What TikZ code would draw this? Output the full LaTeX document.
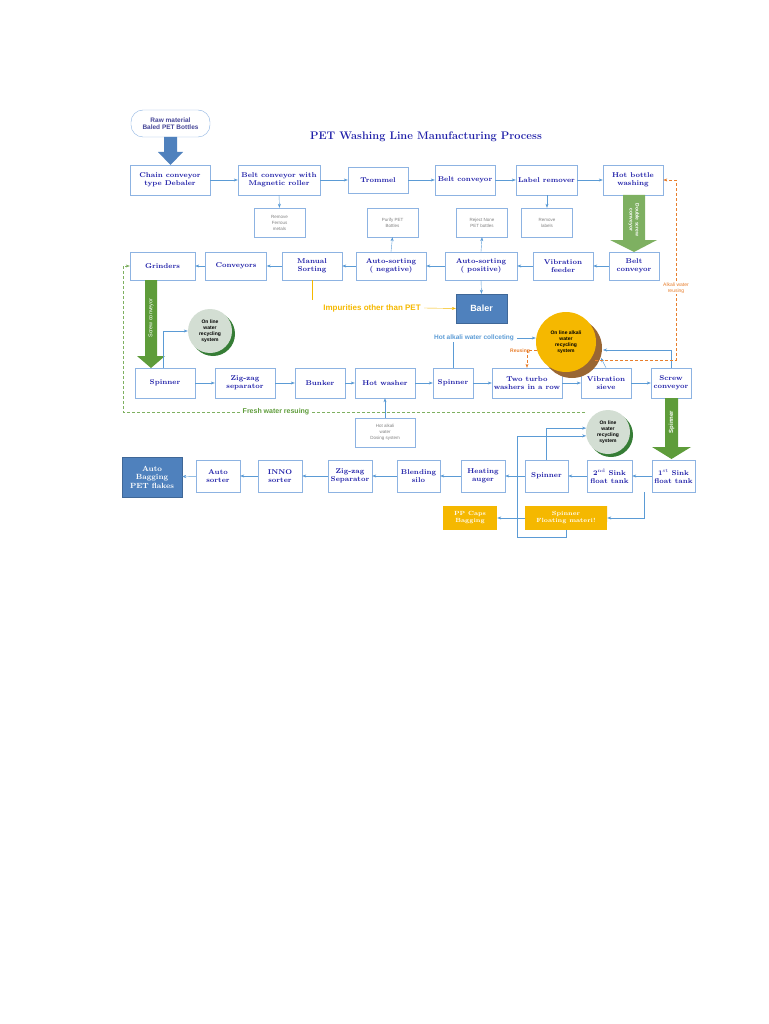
\documentclass[tikz,border=0pt]{standalone}
\usepackage{fontspec}
\newfontfamily\sans{Liberation Sans}
\usetikzlibrary{arrows.meta,shapes.geometric}
\begin{document}
\definecolor{bl}{HTML}{8DB3E2}
\definecolor{ar}{HTML}{5B9BD5}
\definecolor{tb}{HTML}{1F1FA8}
\definecolor{gr}{HTML}{5E9C3A}
\definecolor{yl}{HTML}{F5B800}
\definecolor{og}{HTML}{E87E2C}
\definecolor{fb}{HTML}{4F81BD}
\begin{tikzpicture}[x=1pt,y=-1pt,
 box/.style={draw=bl,fill=white,font=\bfseries\fontsize{7}{8}\selectfont,text=tb,align=center,inner sep=1pt,minimum height=#1},
 box/.default=30,
 side/.style={draw=bl,fill=white,font=\sans\fontsize{4.5}{6}\selectfont,text=gray,align=center,inner sep=1pt,minimum width=51,minimum height=29,
   append after command={[draw=bl] ([xshift=4]\tikzlastnode.north west)--([xshift=4]\tikzlastnode.south west) ([xshift=-4]\tikzlastnode.north east)--([xshift=-4]\tikzlastnode.south east)}},
 fl/.style={draw=ar,-{Stealth[length=4pt]}},
 fill box/.style={fill=fb,draw=fb!80!black,text=white,font=\bfseries\fontsize{7.5}{8.5}\selectfont,align=center},
 ybox/.style={fill=yl,text=white,font=\bfseries\fontsize{6}{7}\selectfont,align=center,minimum height=24,inner sep=1pt},
 circ/.style={circle,font=\sans\bfseries\fontsize{5}{6}\selectfont,align=center,inner sep=0pt}]
\useasboundingbox (0,0) rectangle (768,1024);
% title
\node[font=\bfseries\fontsize{11}{12}\selectfont,text=tb] (title) at (426,137) {PET Washing Line Manufacturing Process};
\node[draw=bl,rounded corners=12,fill=white,font=\sans\bfseries\fontsize{6.5}{7.5}\selectfont,text=gray!40!tb,align=center,minimum width=79,minimum height=27] (raw) at (170.5,123.5) {Raw material\\Baled PET Bottles};
% row1
\node[box,minimum width=80] (chain) at (170,180) {Chain conveyor\\type Debaler};
\node[box,minimum width=82] (belt1) at (279,180) {Belt conveyor with\\Magnetic roller};
\node[box=26,minimum width=60] (trom) at (378,180) {Trommel};
\node[box,minimum width=60] (belt2) at (465,180) {Belt conveyor};
\node[box,minimum width=61] (label) at (546.5,180) {Label remover};
\node[box,minimum width=60] (hot) at (633,180) {Hot bottle\\washing};
% side boxes
\node[side] (fer) at (279.5,222.5) {Remove\\Ferrous\\metals};
\node[side] (pur) at (392.5,222.5) {Purify PET\\Bottles};
\node[side] (rej) at (482,222.5) {Reject None\\PET bottles};
\node[side] (rlab) at (547,222.5) {Remove\\labels};
% row2
\node[box=28,minimum width=65] (grind) at (162.5,266) {Grinders};
\node[box=28,minimum width=61] (conv) at (236,266) {Conveyors};
\node[box=28,minimum width=60] (man) at (312,266) {Manual\\Sorting};
\node[box=28,minimum width=70] (neg) at (391,266) {Auto-sorting\\( negative)};
\node[box=28,minimum width=72] (pos) at (481,266) {Auto-sorting\\( positive)};
\node[box=28,minimum width=60] (vfeed) at (563,266) {Vibration\\feeder};
\node[box=28,minimum width=50] (belt3) at (634,266) {Belt\\conveyor};
\node[fill box,minimum width=51,minimum height=29,font=\sans\bfseries\fontsize{9}{10}\selectfont] (baler) at (481.5,308.5) {Baler};
% row3
\node[box,minimum width=60] (sp1) at (165,383) {Spinner};
\node[box,minimum width=60] (zz1) at (245,383) {Zig-zag\\separator};
\node[box,minimum width=50] (bunk) at (320,383) {Bunker};
\node[box,minimum width=60] (hw) at (385,383) {Hot washer};
\node[box,minimum width=40] (sp2) at (453,383) {Spinner};
\node[box,minimum width=70] (turbo) at (527,383) {Two turbo\\washers in a row};
\node[box,minimum width=50] (vs) at (606,383) {Vibration\\sieve};
\node[box,minimum width=40] (screw) at (671,383) {Screw\\conveyor};
\node[side,minimum width=60] (dose) at (385,432.5) {Hot alkali\\water\\Dosing system};
% row4
\node[fill box,minimum width=60,minimum height=40] (bag) at (152,477) {Auto\\Bagging\\PET flakes};
\node[box=32,minimum width=44] (asort) at (218,476) {Auto\\sorter};
\node[box=32,minimum width=44] (inno) at (280,476) {INNO\\sorter};
\node[box=32,minimum width=44] (zz2) at (350,476) {Zig-zag\\Separator};
\node[box=32,minimum width=43] (blend) at (418.5,476) {Blending\\silo};
\node[box=32,minimum width=44] (heat) at (483,476) {Heating\\auger};
\node[box=32,minimum width=43] (sp3) at (546.5,476) {Spinner};
\node[box=32,minimum width=45] (sink2) at (609.5,476) {2$^{\mathrm{nd}}$ Sink\\float tank};
\node[box=32,minimum width=43] (sink1) at (673.5,476) {1$^{\mathrm{st}}$ Sink\\float tank};
\fill[yl!70!brown] (603,508) -- (607,506) -- (607,522) -- (597,530) -- cycle;
\node[ybox,minimum width=82] (float) at (566,518) {Spinner\\Floating materi!};
\node[ybox,minimum width=54] (pp) at (470,518) {PP Caps\\Bagging};
% circles
\fill[gray!60!green!70!black] (213,334) circle (22);
\node[circ,fill=green!15!gray!30,minimum size=44,text=black] (c1) at (210,331) {On line\\water\\recycling\\system};
\fill[gray!60!green!70!black] (611,435) circle (22);
\node[circ,fill=green!15!gray!30,minimum size=44,text=black] (c3) at (608,432) {On line\\water\\recycling\\system};
\fill[brown!80!black] (572,348) circle (30);
\node[circ,fill=yl,minimum size=60,text=black] (c2) at (566,342) {On line alkali\\water\\recycling\\system};
% fat arrows
\fill[fb] (164,137) -- (177,137) -- (177,152) -- (183,152) -- (170.5,165) -- (158,152) -- (164,152) -- cycle;
\fill[gr!80!white] (623,195) -- (645,195) -- (645,240) -- (657,240) -- (634,252) -- (610,240) -- (623,240) -- cycle;
\node[rotate=-90,font=\sans\bfseries\fontsize{5}{6}\selectfont,text=white,align=center] at (634,220) {Double screw\\conveyor};
\fill[gr] (145,280) -- (157,280) -- (157,356) -- (165,356) -- (151,368) -- (137,356) -- (145,356) -- cycle;
\node[rotate=90,font=\sans\fontsize{5.5}{6}\selectfont,text=white] at (151,318) {Screw conveyor};
\fill[gr] (665,398) -- (678,398) -- (678,447) -- (691,447) -- (671.5,459) -- (652,447) -- (665,447) -- cycle;
\node[rotate=90,font=\sans\bfseries\fontsize{6}{7}\selectfont,text=white] at (671.5,422) {Spinner};
% row1 flows
\draw[fl] (chain) -- (belt1);
\draw[fl] (belt1) -- (trom);
\draw[fl] (trom) -- (belt2);
\draw[fl] (belt2) -- (label);
\draw[fl] (label) -- (hot);
\draw[fl] (belt1.south) -- (fer.north);
\draw[fl] (label.south -| rlab) -- (rlab.north);
% row2 flows
\draw[fl] (belt3) -- (vfeed);
\draw[fl] (vfeed) -- (pos);
\draw[fl] (pos) -- (neg);
\draw[fl] (neg) -- (man);
\draw[fl] (man) -- (conv);
\draw[fl] (conv) -- (grind);
\draw[fl] (neg.north) -- (pur.south);
\draw[fl] (pos.north) -- (rej.south);
\draw[fl] (pos.south) -- (baler.north);
\draw[yl,thick] (man.south) -- (312,300);
\node[text=yl,font=\sans\bfseries\fontsize{8}{9}\selectfont] (imp) at (372,308) {Impurities other than PET};
\draw[yl,-{Stealth[length=4pt]}] (imp.east) -- (baler.west);
% row3 flows
\draw[fl] (sp1) -- (zz1);
\draw[fl] (zz1) -- (bunk);
\draw[fl] (bunk) -- (hw);
\draw[fl] (hw) -- (sp2);
\draw[fl] (sp2) -- (turbo);
\draw[fl] (turbo) -- (vs);
\draw[fl] (vs) -- (screw);
\draw[fl] (dose.north) -- (hw.south);
\draw[fl] (sp1.north -| 163,0) |- (c1.west);
\node[text=ar,font=\sans\bfseries\fontsize{6.5}{8}\selectfont] (hac) at (474,338) {Hot alkali water collceting};
\draw[ar] (sp2.north) -- (453,342);
\draw[fl] (hac.east) -- (hac.east -| c2.west);
\coordinate (c2a) at (601,358);
\coordinate (c2b) at (603,350);
\coordinate (c2c) at (595,360);
\draw[fl] (vs.north) -- (c2a);
\draw[fl] (screw.north) -- (671,350) -- (c2b);
\node[text=og,font=\sans\bfseries\fontsize{5}{6}\selectfont] (reu) at (520,351) {Reusing};
\draw[og,densely dashed,-{Stealth[length=4pt]}] (c2.-165) -| (turbo.north);
\draw[og,densely dashed,-{Stealth[length=4pt]}] (c2c) -- (676,360) -- (676,180) -- (hot.east);
\node[fill=white,text=og,font=\sans\fontsize{5}{6}\selectfont,align=center,inner sep=1pt] at (676,288) {Alkali water\\reusing};
\coordinate (fw) at (585,412);
\draw[gr!80!white,densely dashed,-{Stealth[length=4pt]}] (fw) -- (123,412) -- (123,266) -- (grind.west);
\node[fill=white,text=gr,font=\sans\bfseries\fontsize{7}{8}\selectfont,inner sep=1pt] at (276,412) {Fresh water resuing};
% row4 flows
\draw[fl] (sink1) -- (sink2);
\draw[fl] (sink2) -- (sp3);
\draw[fl] (sp3) -- (heat);
\draw[fl] (heat) -- (blend);
\draw[fl] (blend) -- (zz2);
\draw[fl] (zz2) -- (inno);
\draw[fl] (inno) -- (asort);
\draw[fl] (asort) -- (bag);
\draw[fl] (float) -- (pp);
\draw[fl] (sink1.south -| 644,0) |- (float.east);
\draw[fl] (sp3.north) |- (c3.170);
\draw[fl] (float.south) -- (566,537) -- (517,537) |- (c3.190);
\end{tikzpicture}
\end{document}
